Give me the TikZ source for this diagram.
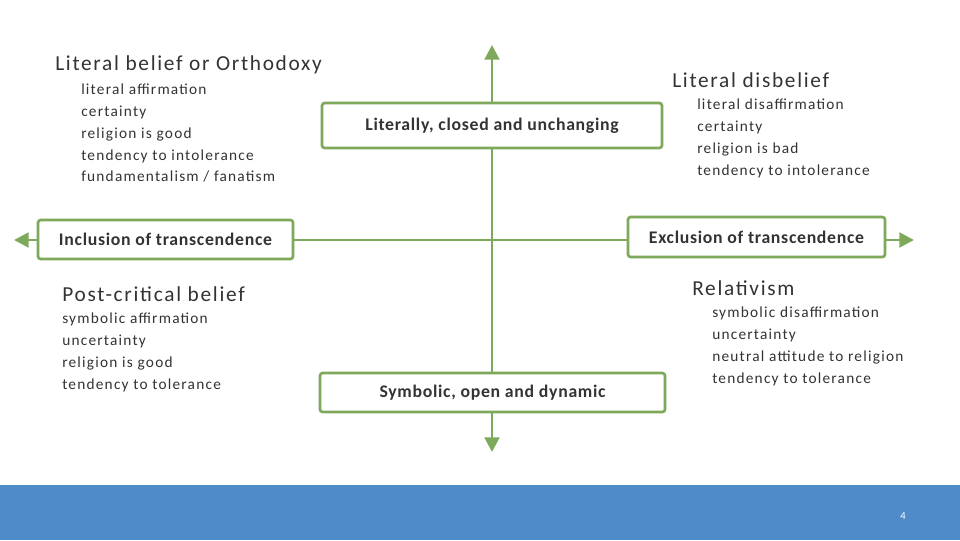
\documentclass[tikz,border=0pt]{standalone}
\usepackage{fontspec}
\setmainfont{Carlito}
\newfontfamily\lsfont[LetterSpace=8]{Carlito}
\newfontfamily\hsfont[LetterSpace=8]{Carlito}
\newfontfamily\bsfont[LetterSpace=4]{Carlito}
\usetikzlibrary{arrows.meta}
\definecolor{gr}{HTML}{7FA95A}
\definecolor{bl}{HTML}{4F8BC9}
\definecolor{tx}{HTML}{333333}
\tikzset{
 axis/.style={draw=gr,line width=2.2pt,{Triangle[length=11pt,width=11pt]}-{Triangle[length=11pt,width=11pt]}},
 boxst/.style={draw=gr,line width=2pt,fill=white,rounded corners=2pt,font=\bsfont\bfseries\fontsize{13.3}{15}\selectfont,text=tx,inner sep=0pt},
 head/.style={anchor=west,font=\hsfont\fontsize{16}{18}\selectfont,text=tx,inner sep=0pt},
 lst/.style={anchor=north west,align=left,font=\lsfont\fontsize{11.5}{16.3}\selectfont,text=tx,inner sep=0pt},
}
\begin{document}
\begin{tikzpicture}[x=0.75pt,y=-0.75pt]
\path[use as bounding box,fill=white] (0,0) rectangle (960,540);
\fill[bl] (0,485) rectangle (960,540);
\node[text=white,font=\fontsize{8}{9}\selectfont] (pg) at (903,516) {4};
\coordinate (vt) at (492,45); \coordinate (vb) at (492,452);
\coordinate (hl) at (14,240); \coordinate (hr) at (914,240);
\draw[axis] (vt) -- (vb);
\draw[axis] (hl) -- (hr);
\node[boxst,minimum width=340*0.75pt,minimum height=45*0.75pt] (b1) at (492,125.5) {Literally, closed and unchanging};
\node[boxst,minimum width=255*0.75pt,minimum height=39*0.75pt] (b2) at (165.5,239.5) {Inclusion of transcendence};
\node[boxst,minimum width=257*0.75pt,minimum height=40*0.75pt] (b3) at (756.5,237) {Exclusion of transcendence};
\node[boxst,minimum width=345*0.75pt,minimum height=39*0.75pt] (b4) at (492.5,392.5) {Symbolic, open and dynamic};
\node[head] (h1) at (55,65) {Literal belief or Orthodoxy};
\node[lst] (l1) at (81,84) {literal affirmation\\certainty\\religion is good\\tendency to intolerance\\fundamentalism / fanatism};
\node[head] (h2) at (672,80) {Literal disbelief};
\node[lst] (l2) at (697,99) {literal disaffirmation\\certainty\\religion is bad\\tendency to intolerance};
\node[head] (h3) at (62,294) {Post-critical belief};
\node[lst] (l3) at (62,313) {symbolic affirmation\\uncertainty\\religion is good\\tendency to tolerance};
\node[head] (h4) at (692,288) {Relativism};
\node[lst] (l4) at (712,307) {symbolic disaffirmation\\uncertainty\\neutral attitude to religion\\tendency to tolerance};
\end{tikzpicture}
\end{document}
